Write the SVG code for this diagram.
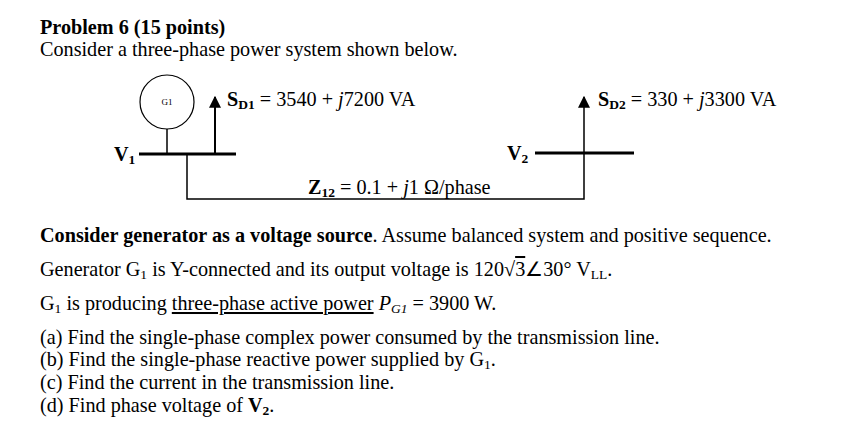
<svg xmlns="http://www.w3.org/2000/svg" width="855" height="437" viewBox="0 0 855 437">
<style>
text{font-family:"Liberation Serif","Times New Roman",serif;font-size:20.2px;fill:#000}
.b{font-weight:bold}
.s{font-size:13.5px}
.g{font-size:9px}
.ln{stroke:#000;fill:none}
</style>
<defs><marker id="ah" markerWidth="12" markerHeight="12" refX="9" refY="5" orient="auto" markerUnits="userSpaceOnUse" viewBox="0 0 10 10"><path d="M0,0 L10,5 L0,10Z" fill="#000"/></marker></defs>
<rect width="855" height="437" fill="#fff"/>
<text x="40" y="34" class="b">Problem 6 (15 points)</text>
<text x="40" y="56">Consider a three-phase power system shown below.</text>
<g id="G1"><circle cx="167" cy="102" r="27" class="ln" stroke-width="1.2"/><text x="167" y="105" class="g" text-anchor="middle">G1</text></g>
<g id="bus1"><line x1="139" y1="154" x2="236" y2="154" class="ln" stroke-width="3"/><text x="114" y="161" class="b">V<tspan class="s" dy="3">1</tspan></text></g>
<g id="bus2"><line x1="535" y1="153" x2="634" y2="153" class="ln" stroke-width="3"/><text x="507" y="160" class="b">V<tspan class="s" dy="3">2</tspan></text></g>
<g id="load1"><text x="227" y="106"><tspan class="b">S<tspan class="s" dy="3">D1</tspan></tspan><tspan dy="-3"> = 3540 + </tspan><tspan font-style="italic">j</tspan>7200 VA</text></g>
<g id="load2"><text x="598" y="106"><tspan class="b">S<tspan class="s" dy="3">D2</tspan></tspan><tspan dy="-3"> = 330 + </tspan><tspan font-style="italic">j</tspan>3300 VA</text></g>
<g id="connectors">
<line x1="167" y1="129" x2="167" y2="154" class="ln" stroke-width="1.5"/>
<line x1="215" y1="154" x2="215" y2="97" class="ln" stroke-width="2" marker-end="url(#ah)"/>
<polyline points="187,154 187,199 584,199 584,97" class="ln" stroke-width="1.5" marker-end="url(#ah)"/>
</g>
<g id="line12"><text x="308" y="194"><tspan class="b">Z<tspan class="s" dy="3">12</tspan></tspan><tspan dy="-3"> = 0.1 + </tspan><tspan font-style="italic">j</tspan>1 Ω/phase</text></g>
<text x="40" y="242"><tspan class="b">Consider generator as a voltage source</tspan>.  Assume balanced system and positive sequence.</text>
<text x="40" y="276">Generator G<tspan class="s" dy="3">1</tspan><tspan dy="-3"> is Y-connected and its output voltage is 120√</tspan><tspan text-decoration="overline">3</tspan>∠30° V<tspan class="s" dy="3">LL</tspan><tspan dy="-3">.</tspan></text>
<text x="40" y="310">G<tspan class="s" dy="3">1</tspan><tspan dy="-3"> is producing </tspan><tspan text-decoration="underline">three-phase active power</tspan> <tspan font-style="italic">P</tspan><tspan font-style="italic" class="s" dy="3">G1</tspan><tspan dy="-3"> = 3900 W.</tspan></text>
<text x="40" y="344">(a) Find the single-phase complex power consumed by the transmission line.</text>
<text x="40" y="366">(b) Find the single-phase reactive power supplied by G<tspan class="s" dy="3">1</tspan><tspan dy="-3">.</tspan></text>
<text x="40" y="389">(c) Find the current in the transmission line.</text>
<text x="40" y="412">(d) Find phase voltage of <tspan class="b">V<tspan class="s" dy="3">2</tspan></tspan><tspan dy="-3">.</tspan></text>
</svg>
